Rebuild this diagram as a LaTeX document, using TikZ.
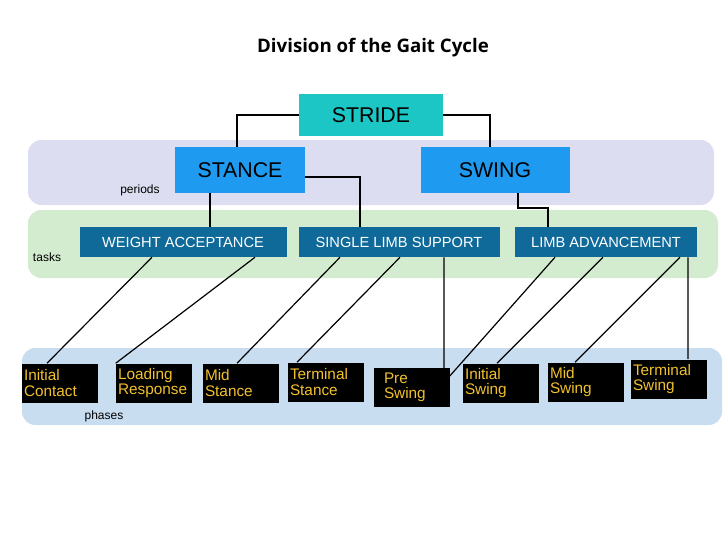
\documentclass[tikz,border=0pt]{standalone}
\usepackage{fontspec}
\setmainfont{Liberation Sans}
\newfontfamily\titlefont{Open Sans}
\usetikzlibrary{positioning}
\definecolor{strideC}{HTML}{1CC6C4}
\definecolor{periodC}{HTML}{1E9BF0}
\definecolor{taskC}{HTML}{0F6A9A}
\definecolor{phaseT}{HTML}{F2C12E}
\definecolor{bandP}{HTML}{DCDDF0}
\definecolor{bandT}{HTML}{D3ECCF}
\definecolor{bandH}{HTML}{C9DDF1}

\begin{document}
\begin{tikzpicture}[x=0.75pt,y=-0.75pt,
    band/.style={rounded corners=10pt},
    period node/.style={fill=periodC,minimum width=#1*0.75pt,minimum height=46*0.75pt,font=\fontsize{16}{18}\selectfont,inner sep=0pt},
    task node/.style={fill=taskC,text=white,minimum width=#1*0.75pt,minimum height=30*0.75pt,font=\fontsize{11}{13}\selectfont,inner sep=0pt},
    phase node/.style={fill=black,text=phaseT,minimum width=76*0.75pt,minimum height=39*0.75pt,font=\fontsize{11.5}{11.5}\selectfont,align=left,inner sep=0pt,text width=72*0.75pt},
    link/.style={draw,line width=1.1pt}]
    \useasboundingbox (0,0) rectangle (728,546);
    \fill[band,bandP] (28,140) rectangle (714,205);
    \fill[band,bandT] (28,210) rectangle (718,278);
    \fill[band,bandH] (22,348) rectangle (722,425);

    \node[font=\titlefont\bfseries\fontsize{14}{16}\selectfont] (title) at (373,48) {Division of the Gait Cycle};
    \node[fill=strideC,minimum width=144*0.75pt,minimum height=42*0.75pt,inner sep=0pt,font=\fontsize{16}{18}\selectfont] (stride) at (371,115) {STRIDE};
    \node[period node=130] (stance) at (240,170) {STANCE};
    \node[period node=149] (swing) at (495,170) {SWING};
    \node[font=\fontsize{9}{11}\selectfont] (periods) at (140,190) {periods};

    \node[task node=207] (wa) at (183,242) {WEIGHT ACCEPTANCE};
    \node[task node=201] (sls) at (399,242) {SINGLE LIMB SUPPORT};
    \node[task node=182] (la) at (606,242) {LIMB ADVANCEMENT};
    \node[font=\fontsize{9}{11}\selectfont] (tasks) at (47,257) {tasks};

    \node[phase node] (ic) at (60,383) {Initial\\Contact};
    \node[phase node] (lr) at (154,383) {Loading\\Response};
    \node[phase node] (ms) at (241,383) {Mid\\Stance};
    \node[phase node] (ts) at (326,382) {Terminal\\Stance};
    \node[phase node] (ps) at (412,387) {\hspace*{6pt}Pre\\\hspace*{6pt}Swing};
    \node[phase node] (is) at (501,383) {Initial\\Swing};
    \node[phase node] (mw) at (586,382) {Mid\\Swing};
    \node[phase node] (tw) at (669,379) {Terminal\\Swing};
    \node[font=\fontsize{9}{11}\selectfont] (phases) at (104,416) {phases};

    % periods and tasks
    \path[link] (stride.west) -| (stance.north -| 237,0);
    \path[link] (stride.east) -| (swing.north -| 490,0);
    \path[link] (stance.south -| 210,0) -- (wa.north -| 210,0);
    \path[link] (stance.east |- 0,177) -| (sls.north -| 360,0);
    \path[link] (swing.south -| 518,0) |- (533,208) -| (la.north -| 548,0);

    % phases
    \path[link,line width=0.9pt]
    (wa.south -| 152,0) -- (ic.north -| 47,0)
    (wa.south -| 255,0) -- (lr.north west)
    (sls.south -| 340,0) -- (ms.north -| 237,0)
    (sls.south -| 400,0) -- (ts.north -| 297,0)
    (sls.south -| 444,0) -- (444,380)
    (la.south -| 555,0) -- (448,378)
    (la.south -| 603,0) -- (is.north -| 497,0)
    (la.south -| 680,0) -- (mw.north -| 575,0)
    (la.south -| 688,0) -- (tw.north -| 688,0);
\end{tikzpicture}
\end{document}
